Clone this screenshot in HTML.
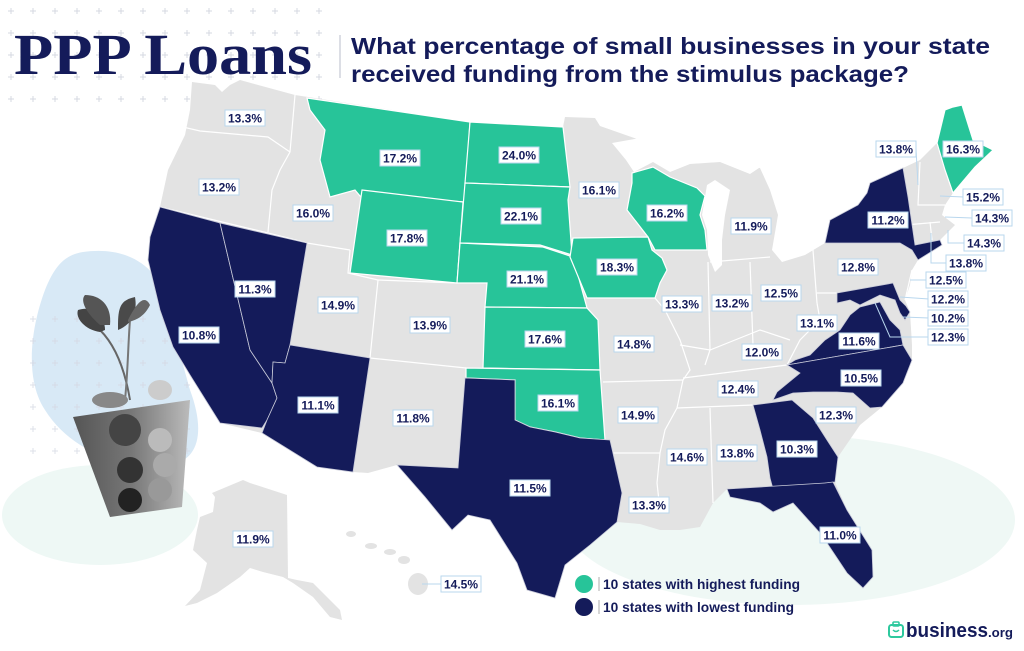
<!DOCTYPE html>
<html><head><meta charset="utf-8"><style>
html,body{margin:0;padding:0;background:#fff;}
svg{display:block;}
.lb rect{fill:#fff;stroke:#b9d7ee;stroke-width:1;}
.lb text{font-family:"Liberation Sans",sans-serif;font-weight:bold;font-size:12px;fill:#141b5a;text-anchor:middle;}
.ld{stroke:#b9d7ee;stroke-width:1;fill:none;}
.br{stroke:#fff;stroke-width:1.2;fill:none;}
</style></head><body>
<svg width="1024" height="651" viewBox="0 0 1024 651" xmlns="http://www.w3.org/2000/svg">
<defs>
<pattern id="pl" width="22" height="22" patternUnits="userSpaceOnUse">
<path d="M11,8 V14 M8,11 H14" stroke="#d5d8e2" stroke-width="1"/>
</pattern>
<linearGradient id="jg" x1="0" x2="1"><stop offset="0" stop-color="#555"/><stop offset="0.5" stop-color="#777"/><stop offset="1" stop-color="#bbb"/></linearGradient>
</defs>
<rect width="1024" height="651" fill="#fff"/>
<!-- plus pattern -->
<rect x="0" y="5" width="330" height="110" fill="url(#pl)"/>
<!-- blobs -->
<path d="M83,252 C130,245 160,270 165,300 L190,390 C205,430 200,460 170,465 C120,470 70,450 45,410 C25,380 30,330 45,290 C55,265 65,255 83,252Z" fill="#d8e9f6"/>
<rect x="30" y="310" width="170" height="150" fill="url(#pl)" opacity="0.8"/>
<ellipse cx="100" cy="515" rx="98" ry="50" fill="#eef8f5"/>
<ellipse cx="790" cy="520" rx="225" ry="85" fill="#eff8f5"/>
<!-- US outline -->
<polygon fill="#e3e3e3" points="192,82 215,85 222,92 230,85 240,80 295,95 470,122 563,127 565,117 595,118 600,126 640,140 760,168 770,190 778,215 772,250 782,262 805,255 825,243 830,220 858,205 867,193 870,183 903,168 920,160 937,143 945,110 953,107 962,105 973,140 993,150 975,167 953,193 945,205 942,215 955,225 948,232 940,240 942,245 918,260 912,270 910,285 905,300 910,312 912,345 912,360 903,383 882,407 860,425 838,457 835,482 847,510 872,550 873,577 863,588 847,573 827,543 820,533 793,503 773,512 760,503 727,489 713,503 700,527 680,530 660,530 640,524 617,522 590,545 565,565 555,598 527,590 517,563 490,520 468,515 452,530 425,497 397,465 368,473 353,472 317,467 262,433 220,423 190,375 173,347 160,310 148,260 150,237 160,207 168,170 185,135 190,110"/>
<!-- lakes -->
<polygon fill="#fff" points="612,143 640,138 700,150 762,166 750,174 720,162 690,164 670,172 653,162 634,172 626,160"/>
<polygon fill="#fff" points="707,185 715,180 730,190 725,215 722,240 722,265 715,272 708,255 707,230 702,215"/>
<!-- gray borders -->
<g class="br">
<path d="M183,127 L200,131 L268,137 L290,152"/>
<path d="M295,95 L290,152 L280,170 L272,190 L268,232"/>
<path d="M160,207 L268,233 L307,243 L350,250"/>
<path d="M350,250 L348,273 L378,280 L370,358"/>
<path d="M370,358 L466,368"/>
<path d="M378,280 L457,283"/>
<path d="M708,262 L710,350 L705,365"/>
<path d="M750,262 L753,345"/>
<path d="M813,250 L817,303"/>
<path d="M817,293 L837,293"/>
<path d="M817,303 L820,320 L800,340 L787,365"/>
<path d="M680,345 L710,350 L735,340 L760,330 L790,340"/>
<path d="M655,298 L665,310 L680,340 L690,370 L683,380"/>
<path d="M603,382 L683,380"/>
<path d="M683,378 L787,365"/>
<path d="M677,408 L753,405"/>
<path d="M612,453 L660,453"/>
<path d="M683,380 L677,408 L665,430 L660,453 L657,483 L660,510"/>
<path d="M710,408 L713,503"/>
<path d="M710,262 L770,257"/>
<path d="M912,270 L905,300"/>
<path d="M920,162 L918,205 L945,205"/>
<path d="M905,225 L940,222"/>
<path d="M930,222 L932,240"/>
<path d="M570,240 L648,237"/>
</g>
<!-- green states -->
<g fill="#27c499" stroke="#fff" stroke-width="1.2">
<polygon points="307,98 470,122 465,202 360,196 355,190 330,197 320,160 325,130 310,110"/>
<polygon points="362,190 463,202 457,283 350,273"/>
<polygon points="470,122 563,127 570,187 465,183"/>
<polygon points="465,183 570,187 568,200 572,255 540,245 460,243"/>
<polygon points="460,243 543,247 573,257 587,308 485,307 487,283 457,283"/>
<polygon points="485,307 587,308 598,320 600,370 483,368"/>
<polygon points="466,368 600,370 605,440 580,438 555,432 530,427 515,420 515,380 466,378"/>
<polygon points="632,173 653,167 670,177 697,188 705,196 700,215 705,230 707,250 655,250 648,237 627,210 632,183"/>
<polygon points="573,238 648,237 652,250 662,258 667,270 660,283 655,298 587,298 570,257"/>
<polygon points="953,107 962,105 973,140 993,150 975,167 953,193 945,170 937,143 945,110"/>
</g>
<!-- navy states -->
<g fill="#141b5a" stroke="#c9cbd9" stroke-width="0.8">
<polygon points="160,207 220,223 250,350 272,383 277,398 267,420 262,428 220,423 190,375 173,347 160,310 148,260 150,237"/>
<polygon points="220,223 307,243 290,345 285,363 273,362 272,383 250,350"/>
<polygon points="290,345 370,358 353,472 317,467 262,433 267,420 277,398 272,383 273,362 285,363"/>
<polygon points="465,378 515,380 515,420 530,427 555,432 580,438 610,440 622,493 617,522 590,545 565,565 555,598 527,590 517,563 490,520 468,515 452,530 425,497 397,465 458,468"/>
<polygon points="870,183 903,168 908,197 915,245 940,240 942,245 918,260 912,250 900,243 825,243 830,220 858,205 867,193"/>
<polygon points="837,293 893,283 900,300 906,306 910,312 905,320 900,313 895,300 880,295 860,305 850,300 837,303"/>
<polygon points="787,365 903,345 900,330 890,320 880,302 860,307 850,315 840,330 825,340 810,355 795,360"/>
<polygon points="787,365 903,345 912,360 903,383 882,407 870,408 853,393 837,392 813,392 793,393 773,400 777,392 800,373"/>
<polygon points="753,405 792,400 813,418 827,440 838,457 835,482 773,489 770,478 767,457 760,430"/>
<polygon points="727,489 825,483 833,482 847,510 872,550 873,577 863,588 847,573 827,543 820,533 793,503 773,512 760,503 730,497"/>
</g>
<!-- Alaska & Hawaii -->
<polygon fill="#e3e3e3" points="212,493 243,480 250,483 287,495 288,578 297,580 313,583 327,597 340,610 342,620 330,617 313,597 293,583 283,577 263,572 250,568 240,577 217,593 197,603 185,606 200,590 207,563 193,550 197,530 200,517 213,512 215,497"/>
<g fill="#e3e3e3"><ellipse cx="351" cy="534" rx="5" ry="3"/><ellipse cx="371" cy="546" rx="6" ry="3"/><ellipse cx="390" cy="552" rx="6" ry="3"/><ellipse cx="404" cy="560" rx="6" ry="4"/><ellipse cx="418" cy="584" rx="10" ry="11"/></g>
<!-- coin jar -->
<g>
<path d="M130,400 C125,370 115,345 100,330" stroke="#666" stroke-width="2" fill="none"/>
<path d="M125,400 C128,370 128,345 130,320" stroke="#777" stroke-width="2" fill="none"/>
<path d="M100,332 C85,330 75,318 78,310 C92,305 105,315 105,330Z" fill="#444"/>
<path d="M100,325 C85,312 80,300 85,295 C100,295 112,305 110,325Z" fill="#555"/>
<path d="M118,325 C118,305 122,300 135,297 C138,315 130,325 118,330Z" fill="#4a4a4a"/>
<path d="M128,320 C138,300 145,295 150,305 C145,315 138,320 128,322Z" fill="#666"/>
<ellipse cx="160" cy="390" rx="12" ry="10" fill="#ccc"/>
<ellipse cx="110" cy="400" rx="18" ry="8" fill="#888"/>
<polygon points="73,417 190,400 182,507 110,517" fill="url(#jg)"/>
<circle cx="125" cy="430" r="16" fill="#444"/>
<circle cx="160" cy="440" r="12" fill="#bbb"/>
<circle cx="165" cy="465" r="12" fill="#aaa"/>
<circle cx="130" cy="470" r="13" fill="#333"/>
<circle cx="160" cy="490" r="12" fill="#999"/>
<circle cx="130" cy="500" r="12" fill="#222"/>
</g>
<!-- title -->
<text x="14" y="74" font-family="'Liberation Serif',serif" font-weight="bold" font-size="58" fill="#141b5a" textLength="298" lengthAdjust="spacingAndGlyphs">PPP Loans</text>
<line x1="340" y1="35" x2="340" y2="78" stroke="#b8bccb" stroke-width="1"/>
<text x="351" y="54" font-family="'Liberation Sans',sans-serif" font-weight="bold" font-size="23" fill="#141b5a" textLength="639" lengthAdjust="spacingAndGlyphs">What percentage of small businesses in your state</text>
<text x="351" y="82" font-family="'Liberation Sans',sans-serif" font-weight="bold" font-size="23" fill="#141b5a" textLength="558" lengthAdjust="spacingAndGlyphs">received funding from the stimulus package?</text>
<!-- leader lines -->
<g class="ld">
<path d="M461,584 L422,584"/>
<path d="M916,149 L918,185"/>
<path d="M964,197 L940,196"/>
<path d="M972,218 L945,217"/>
<path d="M965,243 L948,243 L948,230"/>
<path d="M947,263 L931,263 L931,233"/>
<path d="M927,280 L910,280"/>
<path d="M929,299 L900,297"/>
<path d="M929,318 L903,317"/>
<path d="M929,337 L890,337 L875,303"/>
</g>
<!-- labels -->
<g class="lb">
<g transform="translate(245,118)"><rect x="-20" y="-8" width="40" height="16"/><text y="4.5">13.3%</text></g>
<g transform="translate(219,187)"><rect x="-20" y="-8" width="40" height="16"/><text y="4.5">13.2%</text></g>
<g transform="translate(313,213)"><rect x="-20" y="-8" width="40" height="16"/><text y="4.5">16.0%</text></g>
<g transform="translate(400,158)"><rect x="-20" y="-8" width="40" height="16"/><text y="4.5">17.2%</text></g>
<g transform="translate(519,155)"><rect x="-20" y="-8" width="40" height="16"/><text y="4.5">24.0%</text></g>
<g transform="translate(521,216)"><rect x="-20" y="-8" width="40" height="16"/><text y="4.5">22.1%</text></g>
<g transform="translate(407,238)"><rect x="-20" y="-8" width="40" height="16"/><text y="4.5">17.8%</text></g>
<g transform="translate(527,279)"><rect x="-20" y="-8" width="40" height="16"/><text y="4.5">21.1%</text></g>
<g transform="translate(255,289)"><rect x="-20" y="-8" width="40" height="16"/><text y="4.5">11.3%</text></g>
<g transform="translate(338,305)"><rect x="-20" y="-8" width="40" height="16"/><text y="4.5">14.9%</text></g>
<g transform="translate(430,325)"><rect x="-20" y="-8" width="40" height="16"/><text y="4.5">13.9%</text></g>
<g transform="translate(199,335)"><rect x="-20" y="-8" width="40" height="16"/><text y="4.5">10.8%</text></g>
<g transform="translate(545,339)"><rect x="-20" y="-8" width="40" height="16"/><text y="4.5">17.6%</text></g>
<g transform="translate(318,405)"><rect x="-20" y="-8" width="40" height="16"/><text y="4.5">11.1%</text></g>
<g transform="translate(413,418)"><rect x="-20" y="-8" width="40" height="16"/><text y="4.5">11.8%</text></g>
<g transform="translate(558,403)"><rect x="-20" y="-8" width="40" height="16"/><text y="4.5">16.1%</text></g>
<g transform="translate(530,488)"><rect x="-20" y="-8" width="40" height="16"/><text y="4.5">11.5%</text></g>
<g transform="translate(253,539)"><rect x="-20" y="-8" width="40" height="16"/><text y="4.5">11.9%</text></g>
<g transform="translate(461,584)"><rect x="-20" y="-8" width="40" height="16"/><text y="4.5">14.5%</text></g>
<g transform="translate(599,190)"><rect x="-20" y="-8" width="40" height="16"/><text y="4.5">16.1%</text></g>
<g transform="translate(667,213)"><rect x="-20" y="-8" width="40" height="16"/><text y="4.5">16.2%</text></g>
<g transform="translate(751,226)"><rect x="-20" y="-8" width="40" height="16"/><text y="4.5">11.9%</text></g>
<g transform="translate(617,267)"><rect x="-20" y="-8" width="40" height="16"/><text y="4.5">18.3%</text></g>
<g transform="translate(896,149)"><rect x="-20" y="-8" width="40" height="16"/><text y="4.5">13.8%</text></g>
<g transform="translate(963,149)"><rect x="-20" y="-8" width="40" height="16"/><text y="4.5">16.3%</text></g>
<g transform="translate(983,197)"><rect x="-20" y="-8" width="40" height="16"/><text y="4.5">15.2%</text></g>
<g transform="translate(888,220)"><rect x="-20" y="-8" width="40" height="16"/><text y="4.5">11.2%</text></g>
<g transform="translate(992,218)"><rect x="-20" y="-8" width="40" height="16"/><text y="4.5">14.3%</text></g>
<g transform="translate(984,243)"><rect x="-20" y="-8" width="40" height="16"/><text y="4.5">14.3%</text></g>
<g transform="translate(966,263)"><rect x="-20" y="-8" width="40" height="16"/><text y="4.5">13.8%</text></g>
<g transform="translate(858,267)"><rect x="-20" y="-8" width="40" height="16"/><text y="4.5">12.8%</text></g>
<g transform="translate(946,280)"><rect x="-20" y="-8" width="40" height="16"/><text y="4.5">12.5%</text></g>
<g transform="translate(948,299)"><rect x="-20" y="-8" width="40" height="16"/><text y="4.5">12.2%</text></g>
<g transform="translate(948,318)"><rect x="-20" y="-8" width="40" height="16"/><text y="4.5">10.2%</text></g>
<g transform="translate(948,337)"><rect x="-20" y="-8" width="40" height="16"/><text y="4.5">12.3%</text></g>
<g transform="translate(682,304)"><rect x="-20" y="-8" width="40" height="16"/><text y="4.5">13.3%</text></g>
<g transform="translate(732,303)"><rect x="-20" y="-8" width="40" height="16"/><text y="4.5">13.2%</text></g>
<g transform="translate(781,293)"><rect x="-20" y="-8" width="40" height="16"/><text y="4.5">12.5%</text></g>
<g transform="translate(817,323)"><rect x="-20" y="-8" width="40" height="16"/><text y="4.5">13.1%</text></g>
<g transform="translate(859,341)"><rect x="-20" y="-8" width="40" height="16"/><text y="4.5">11.6%</text></g>
<g transform="translate(634,344)"><rect x="-20" y="-8" width="40" height="16"/><text y="4.5">14.8%</text></g>
<g transform="translate(762,352)"><rect x="-20" y="-8" width="40" height="16"/><text y="4.5">12.0%</text></g>
<g transform="translate(861,378)"><rect x="-20" y="-8" width="40" height="16"/><text y="4.5">10.5%</text></g>
<g transform="translate(738,389)"><rect x="-20" y="-8" width="40" height="16"/><text y="4.5">12.4%</text></g>
<g transform="translate(638,415)"><rect x="-20" y="-8" width="40" height="16"/><text y="4.5">14.9%</text></g>
<g transform="translate(836,415)"><rect x="-20" y="-8" width="40" height="16"/><text y="4.5">12.3%</text></g>
<g transform="translate(797,449)"><rect x="-20" y="-8" width="40" height="16"/><text y="4.5">10.3%</text></g>
<g transform="translate(687,457)"><rect x="-20" y="-8" width="40" height="16"/><text y="4.5">14.6%</text></g>
<g transform="translate(737,453)"><rect x="-20" y="-8" width="40" height="16"/><text y="4.5">13.8%</text></g>
<g transform="translate(649,505)"><rect x="-20" y="-8" width="40" height="16"/><text y="4.5">13.3%</text></g>
<g transform="translate(840,535)"><rect x="-20" y="-8" width="40" height="16"/><text y="4.5">11.0%</text></g>
</g>
<!-- legend -->
<circle cx="584" cy="584" r="9" fill="#27c499"/>
<circle cx="584" cy="607" r="9" fill="#141b5a"/>
<line x1="599" y1="577" x2="599" y2="591" stroke="#999" stroke-width="0.8"/>
<line x1="599" y1="600" x2="599" y2="614" stroke="#999" stroke-width="0.8"/>
<text x="603" y="589" font-family="'Liberation Sans',sans-serif" font-weight="bold" font-size="13.5" fill="#141b5a" textLength="197" lengthAdjust="spacingAndGlyphs">10 states with highest funding</text>
<text x="603" y="612" font-family="'Liberation Sans',sans-serif" font-weight="bold" font-size="13.5" fill="#141b5a" textLength="191" lengthAdjust="spacingAndGlyphs">10 states with lowest funding</text>
<!-- logo -->
<rect x="889" y="625" width="14" height="12" rx="2.5" fill="none" stroke="#2ec99e" stroke-width="2"/>
<rect x="893" y="622" width="6" height="4" rx="1" fill="none" stroke="#2ec99e" stroke-width="1.6"/>
<path d="M893,630 Q896,633 899,630" stroke="#2ec99e" stroke-width="1.5" fill="none"/>
<text x="906" y="637" font-family="'Liberation Sans',sans-serif" font-weight="bold" font-size="20" fill="#141b5a" textLength="82" lengthAdjust="spacingAndGlyphs">business</text>
<text x="988" y="637" font-family="'Liberation Sans',sans-serif" font-weight="bold" font-size="13" fill="#141b5a" textLength="25" lengthAdjust="spacingAndGlyphs">.org</text>
</svg>
</body></html>
